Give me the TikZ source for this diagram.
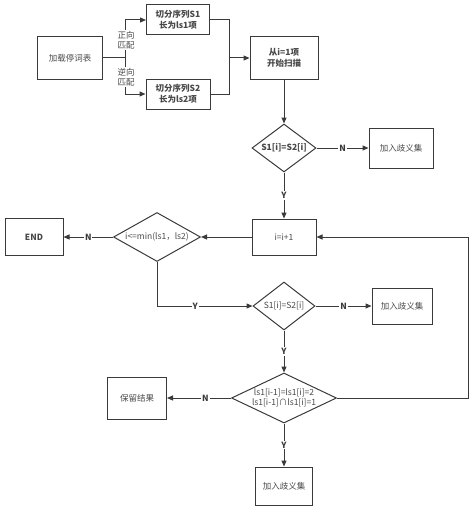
\documentclass[tikz,border=0pt]{standalone}
\usepackage{fontspec}
\setmainfont{Noto Sans CJK SC}
\usetikzlibrary{shapes.geometric,arrows.meta}
\definecolor{linegray}{HTML}{3A3A3A}
\definecolor{textgray}{HTML}{484848}

\begin{document}
\begin{tikzpicture}[x=1pt,y=-1pt,
  box/.style={draw=linegray,line width=1pt,rectangle,inner sep=0pt,align=center,font=\fontsize{8.5}{11}\selectfont,text=textgray},
  dia/.style={draw=linegray,line width=1pt,diamond,inner sep=0pt},
  diatext/.style={inner sep=0pt,align=center,font=\fontsize{8.5}{11}\selectfont,text=textgray},
  arr/.style={draw=linegray,line width=1pt,-{Triangle[length=6pt,width=5pt]}},
  ln/.style={draw=linegray,line width=1pt},
  lbl/.style={fill=white,inner sep=1pt,font=\bfseries\fontsize{8.5}{10}\selectfont,text=linegray}]
\useasboundingbox (0,0) rectangle (474,511);
% boxes
\node[box,minimum width=65,minimum height=43] (load) at (70,58) {加载停词表};
\node[box,minimum width=63,minimum height=30,font=\bfseries\fontsize{8.5}{11}\selectfont] (s1) at (178,20) {切分序列S1\\长为ls1项};
\node[box,minimum width=64,minimum height=30,font=\bfseries\fontsize{8.5}{11}\selectfont] (s2) at (178,94) {切分序列S2\\长为ls2项};
\node[box,minimum width=68,minimum height=43,font=\bfseries\fontsize{8.5}{11}\selectfont] (start) at (284,58) {从i=1项\\开始扫描};
\node[dia,minimum width=64,minimum height=48,label={[diatext,font=\bfseries\fontsize{8.5}{11}\selectfont]center:S1[i]=S2[i]}] (d1) at (284,148) {};
\node[box,minimum width=64,minimum height=40] (a1) at (401,148) {加入歧义集};
\node[box,minimum width=64,minimum height=36] (inc) at (284,237) {i=i+1};
\node[dia,minimum width=87,minimum height=49,label={[diatext]center:i<=min(ls1，ls2)}] (d2) at (157,237) {};
\node[box,minimum width=58,minimum height=37,font=\bfseries\fontsize{8.5}{11}\selectfont] (end) at (34,237) {END};
\node[dia,minimum width=62,minimum height=48,label={[diatext]center:S1[i]=S2[i]}] (d3) at (284,306) {};
\node[box,minimum width=60,minimum height=36] (a2) at (402,306) {加入歧义集};
\node[dia,minimum width=105,minimum height=50,label={[diatext,font=\fontsize{8.5}{9.5}\selectfont]center:ls1[i-1]=ls1[i]=2\\ls1[i-1]∩ls1[i]=1}] (d4) at (284,398) {};
\node[box,minimum width=59,minimum height=42] (keep) at (137,398) {保留结果};
\node[box,minimum width=57,minimum height=38] (a3) at (284,486) {加入歧义集};
% fork and join
\coordinate (fork) at (125,58);
\coordinate (join) at (229,58);
\draw[ln] (load.east) -- (fork);
\draw[arr] (fork) |- (s1.west);
\draw[arr] (fork) |- (s2.west);
\node[fill=white,inner sep=0.5pt,align=center,font=\fontsize{8.5}{10.5}\selectfont,text=textgray] (fwd) at (126,40) {正向\\匹配};
\node[fill=white,inner sep=0.5pt,align=center,font=\fontsize{8.5}{10.5}\selectfont,text=textgray] (bwd) at (126,77) {逆向\\匹配};
\draw[ln] (s1.east) -| (join);
\draw[ln] (s2.east) -| (join);
\draw[arr] (join) -- (start.west);
% main flow
\draw[arr] (start.south) -- (d1.north);
\draw[arr] (d1.east) -- node[lbl] {N} (a1.west);
\draw[arr] (d1.south) -- node[lbl] {Y} (inc.north);
\draw[arr] (inc.west) -- (d2.east);
\draw[arr] (d2.west) -- node[lbl] {N} (end.east);
\draw[arr] (d2.south) |- node[lbl,pos=0.7] {Y} (d3.west);
\draw[arr] (d3.east) -- node[lbl] {N} (a2.west);
\draw[arr] (d3.south) -- node[lbl] {Y} (d4.north);
\draw[arr] (d4.west) -- node[lbl,pos=0.4] {N} (keep.east);
\draw[arr] (d4.south) -- node[lbl] {Y} (a3.north);
\coordinate (loop) at (468,398);
\draw[arr] (d4.east) -- (loop) |- (inc.east);
\end{tikzpicture}
\end{document}
